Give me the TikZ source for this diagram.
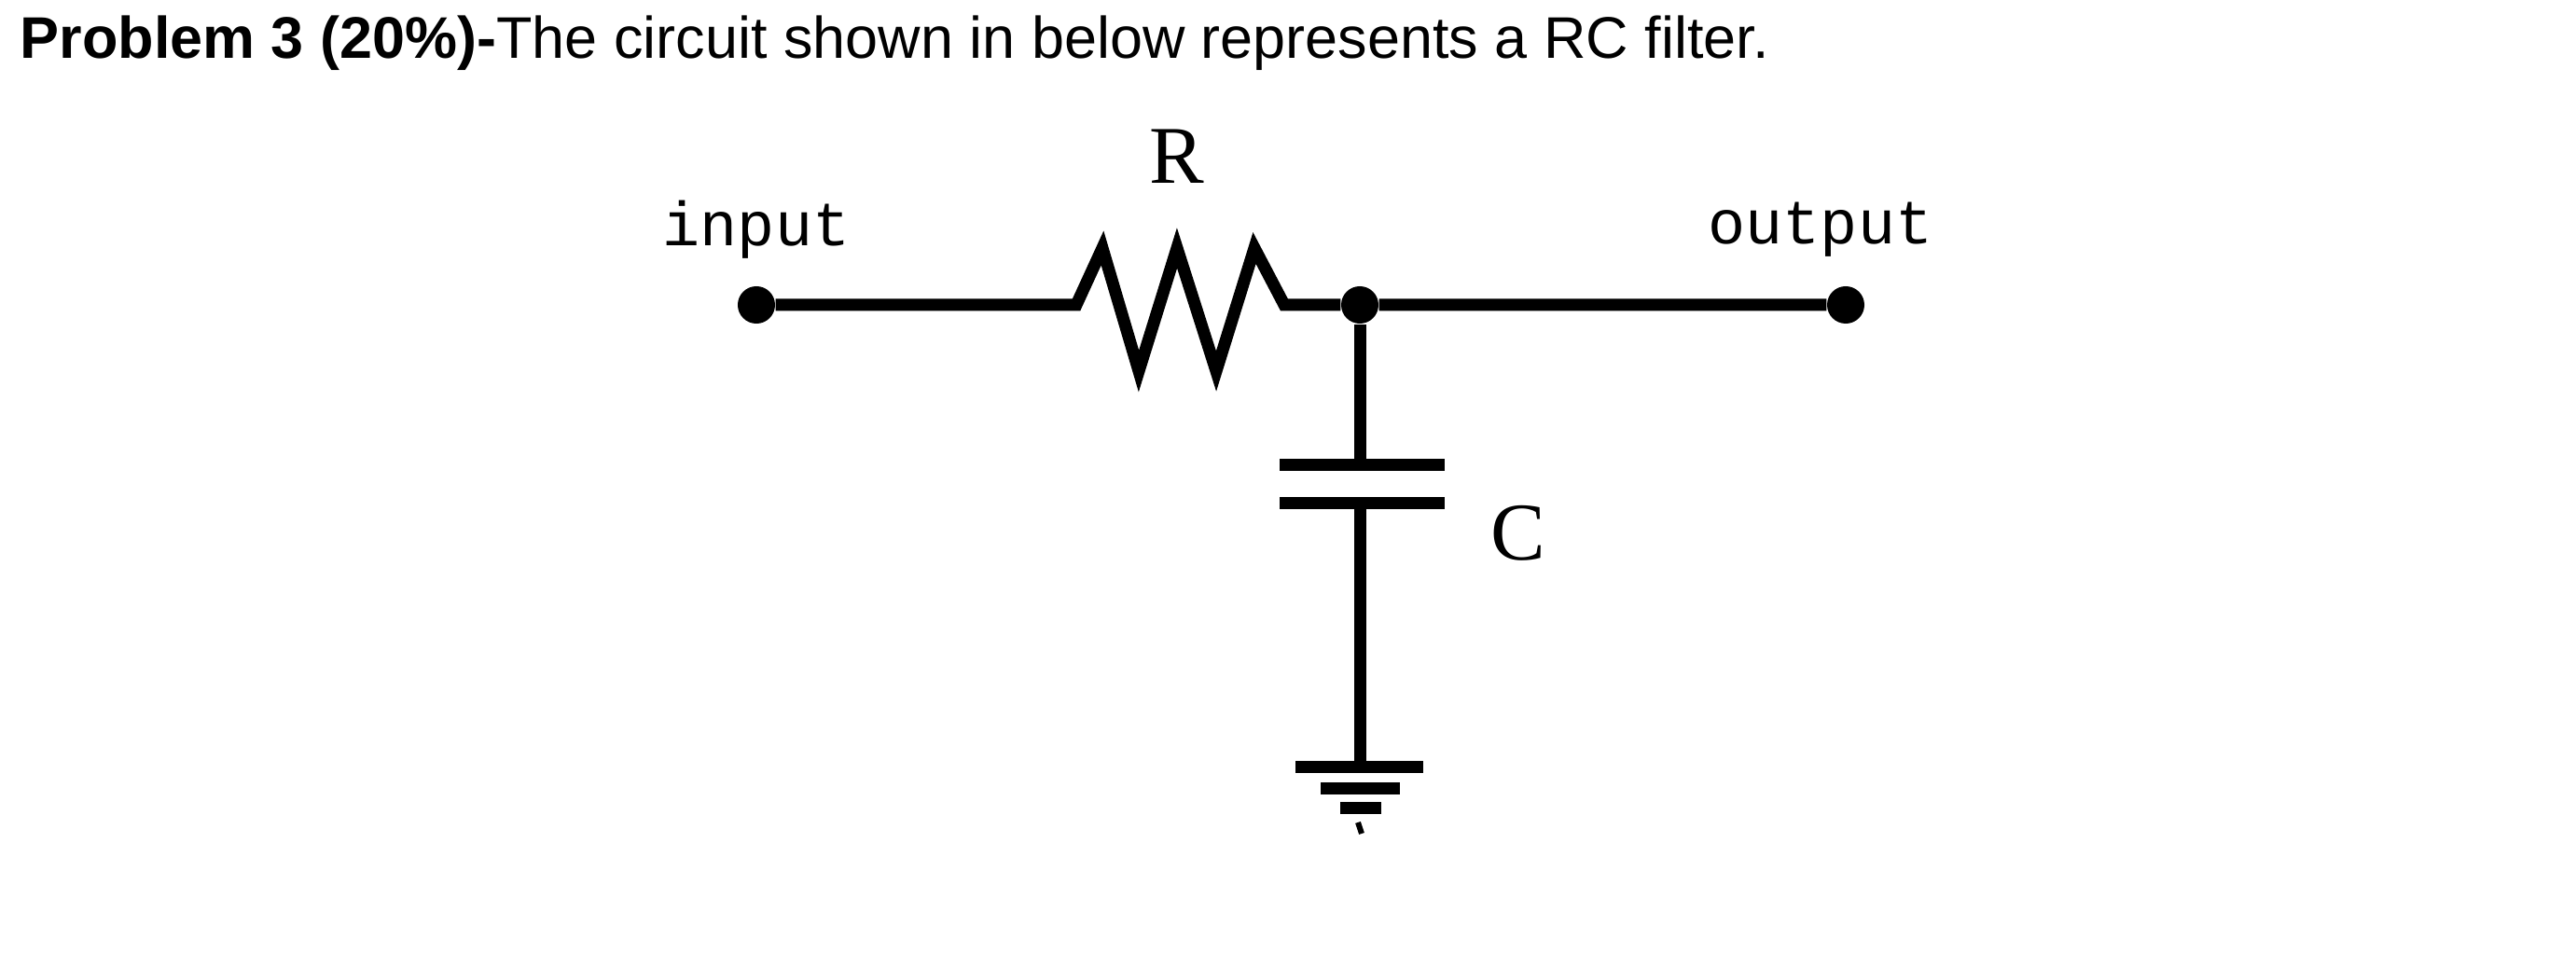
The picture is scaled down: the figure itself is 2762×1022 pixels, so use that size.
\documentclass[tikz,border=0pt]{standalone}
\usepackage{fontspec}
\setmainfont{Liberation Sans}
\newfontfamily\mono{Liberation Mono}
\newfontfamily\ser{Liberation Serif}
\begin{document}
\begin{tikzpicture}[x=0.01cm,y=-0.01cm,
  wire/.style={line width=0.13cm},
  dot/.style={circle,fill,inner sep=0pt,minimum size=0.4cm},
  lbl/.style={inner sep=0pt}]
\useasboundingbox (0,0) rectangle (2762,1022);
\node[lbl,anchor=base west,font=\fontsize{17.9}{20}\selectfont] (title) at (21,63) {\textbf{Problem 3 (20\%)-}The circuit shown in below represents a RC filter.};
\node[dot] (in) at (811,327) {};
\node[dot] (j) at (1458,327) {};
\node[dot] (out) at (1979,327) {};
\coordinate (r1) at (1154,327);
\coordinate (r2) at (1377,327);
\coordinate (c1) at (1458,499);
\coordinate (c2) at (1458,540);
\coordinate (g) at (1458,823);
\draw[wire] (in) -- (r1) -- (1182,266) -- (1221,398) -- (1262,266) -- (1304,398) -- (1345,266) -- (r2) -- (j) -- (out);
\draw[wire] (j) -- (c1);
\draw[wire] (1372,499) -- (1549,499);
\draw[wire] (1372,540) -- (1549,540);
\draw[wire] (c2) -- (g);
\draw[wire] (1389,823) -- (1526,823);
\draw[wire] (1416,846) -- (1501,846);
\draw[wire] (1437,867) -- (1481,867);
\draw[line width=0.06cm] (1456,882) -- (1460,894);
\node[lbl,font=\mono\fontsize{19}{20}\selectfont] (tin) at (811,246) {input};
\node[lbl,font=\mono\fontsize{19}{20}\selectfont] (tout) at (1952,246) {output};
\node[lbl,font=\ser\fontsize{25}{28}\selectfont] (tR) at (1262,168) {R};
\node[lbl,font=\ser\fontsize{25}{28}\selectfont] (tC) at (1628,572) {C};
\end{tikzpicture}
\end{document}
